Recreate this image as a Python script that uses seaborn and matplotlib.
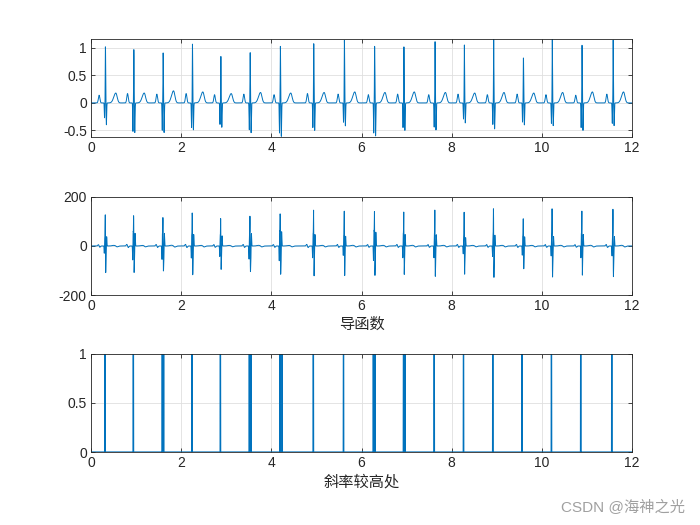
import numpy as np
import seaborn as sns
import matplotlib.pyplot as plt
from matplotlib.ticker import FuncFormatter

# 采样率 / 时长
fs = 360
duration = 12

# R 波位置 (s) 及各波幅值
beat_t = [0.32, 0.95, 1.60, 2.25, 2.88, 3.53, 4.20, 4.94, 5.62, 6.29,
          6.94, 7.63, 8.28, 8.93, 9.59, 10.23, 10.89, 11.58]
r_amp = [1.03, 0.97, 0.91, 1.07, 0.85, 0.92, 1.03, 1.12, 1.15, 1.07,
         1.06, 1.12, 1.06, 1.165, 0.85, 1.165, 1.09, 1.15]
q_amp = [-0.27, -0.52, -0.50, -0.45, -0.40, -0.50, -0.55, -0.45, -0.35, -0.55,
         -0.45, -0.45, -0.30, -0.40, -0.35, -0.38, -0.45, -0.38]
s_amp = [-0.40, -0.55, -0.55, -0.50, -0.45, -0.55, -0.62, -0.50, -0.42, -0.60,
         -0.50, -0.50, -0.37, -0.48, -0.40, -0.42, -0.50, -0.42]
p_amp = [0.14, 0.17, 0.16, 0.17, 0.15, 0.16, 0.15, 0.17, 0.16, 0.15,
         0.16, 0.15, 0.16, 0.15, 0.16, 0.15, 0.14, 0.16]
t_amp = [0.18, 0.18, 0.22, 0.20, 0.17, 0.19, 0.18, 0.19, 0.20, 0.19,
         0.20, 0.19, 0.18, 0.19, 0.18, 0.19, 0.20, 0.20]

# 斜率较高处 (s)
mark_t = [0.31, 0.94, 1.58, 1.61, 2.24, 2.87, 3.51, 3.55, 4.19, 4.24, 4.93,
          5.60, 6.26, 6.30, 6.93, 6.96, 7.61, 8.26, 8.91, 9.56, 10.21, 10.86, 11.55]

t = np.arange(0, duration * fs + 1) / fs
ecg = np.zeros_like(t)


def wave(center, amp, w_left, w_right=None):
    if w_right is None:
        w_right = w_left
    w = np.where(t < center, w_left, w_right)
    return amp * np.exp(-0.5 * ((t - center) / w) ** 2)


for bt, r, q, s, p, tw in zip(beat_t, r_amp, q_amp, s_amp, p_amp, t_amp):
    ecg += wave(bt - 0.14, p, 0.016)
    ecg += wave(bt - 0.02, q, 0.005)
    ecg += wave(bt, r, 0.004, 0.0055)
    ecg += wave(bt + 0.021, s, 0.006)
    ecg += wave(bt + 0.23, tw, 0.045, 0.03)

deriv = np.gradient(ecg) * fs

flag = np.zeros_like(t)
for m in mark_t:
    flag[np.abs(t - m) < 1.5 / fs] = 1

sns.set_style('whitegrid', {'grid.color': '#dfdfdf', 'axes.edgecolor': '#262626'})
plt.rcParams['font.family'] = ['Liberation Sans', 'Noto Sans CJK SC']
plt.rcParams['axes.unicode_minus'] = False
plt.rcParams['xtick.direction'] = 'in'
plt.rcParams['ytick.direction'] = 'in'
plt.rcParams['xtick.top'] = True
plt.rcParams['ytick.right'] = True
plt.rcParams['xtick.bottom'] = True
plt.rcParams['ytick.left'] = True
plt.rcParams['xtick.major.size'] = 3
plt.rcParams['ytick.major.size'] = 3
plt.rcParams['xtick.major.width'] = 0.6
plt.rcParams['ytick.major.width'] = 0.6
plt.rcParams['xtick.color'] = '#262626'
plt.rcParams['ytick.color'] = '#262626'

fig = plt.figure(figsize=(7, 5.25), dpi=100)
ax1 = fig.add_axes([0.13, 0.739, 0.773, 0.187])
ax2 = fig.add_axes([0.13, 0.438, 0.773, 0.187])
ax3 = fig.add_axes([0.13, 0.139, 0.773, 0.187])

blue = '#0072BD'
sns.lineplot(x=t, y=ecg, ax=ax1, color=blue, linewidth=0.7, estimator=None)
sns.lineplot(x=t, y=deriv, ax=ax2, color=blue, linewidth=0.7, estimator=None)
sns.lineplot(x=t, y=flag, ax=ax3, color=blue, linewidth=0.9, estimator=None)

fmt = FuncFormatter(lambda v, _: f'{v:g}')
for ax in (ax1, ax2, ax3):
    ax.set_xlim(0, 12)
    ax.set_xticks(range(0, 13, 2))
    ax.xaxis.set_major_formatter(fmt)
    ax.yaxis.set_major_formatter(fmt)
    ax.tick_params(labelsize=10, pad=3)
    ax.grid(True, color='#dfdfdf', linewidth=0.6)
    for sp in ax.spines.values():
        sp.set_linewidth(0.6)
        sp.set_color('#262626')

ax1.set_ylim(-0.62, 1.165)
ax1.set_yticks([-0.5, 0, 0.5, 1])
ax2.set_ylim(-200, 200)
ax2.set_yticks([-200, 0, 200])
ax3.set_ylim(0, 1)
ax3.set_yticks([0, 0.5, 1])

ax2.set_xlabel('导函数', fontsize=11, labelpad=3)
ax3.set_xlabel('斜率较高处', fontsize=11, labelpad=3)

fig.text(0.978, 0.034, 'CSDN @海神之光', ha='right', va='center',
         color='#a0a0a0', fontsize=11)

fig.savefig('out.png', dpi=100)
